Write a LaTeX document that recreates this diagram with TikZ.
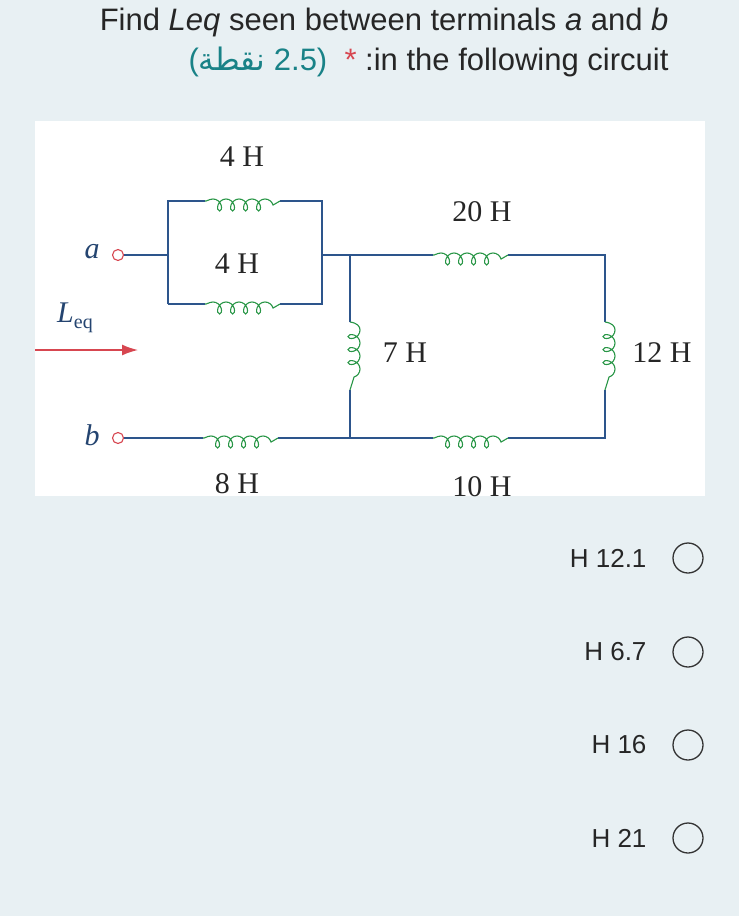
\documentclass[tikz,border=0pt]{standalone}
\usepackage{fontspec}
\setmainfont{Liberation Sans}
\newfontfamily\serif{Liberation Serif}
\newfontfamily\arabicfont[Script=Arabic]{DejaVu Sans}
\TeXXeTstate=1
\usetikzlibrary{decorations.pathmorphing,arrows.meta}
\definecolor{bg}{RGB}{232,240,243}
\definecolor{wire}{RGB}{45,85,140}
\definecolor{ind}{RGB}{40,150,70}
\definecolor{term}{RGB}{215,70,80}
\definecolor{teal}{RGB}{25,130,135}
\begin{document}
\begin{tikzpicture}[x=1pt,y=-1pt,
  w/.style={draw=wire,line width=1.4pt},
  coilh/.style={draw=ind,line width=1.1pt,decorate,decoration={coil,amplitude=6pt,segment length=13pt,aspect=0.8,raise=-4pt}},
  coilv/.style={draw=ind,line width=1.1pt,decorate,decoration={coil,amplitude=6pt,segment length=13pt,aspect=0.8,raise=4pt}},
  lab/.style={font=\serif\fontsize{30}{32}\selectfont,text=black!85},
  opt/.style={font=\fontsize{26}{28}\selectfont,anchor=east,text=black!85},
  rad/.style={draw=black!80,line width=1.3pt,circle,minimum size=30pt,inner sep=0pt}]
\fill[bg] (0,0) rectangle (739,916);
\useasboundingbox (0,0) rectangle (739,916);
\node[font=\fontsize{31}{34}\selectfont,anchor=base east,text=black!85] (t1) at (672,30) {Find \textit{Leq} seen between terminals \textit{a} and \textit{b}};
\node[font=\fontsize{31}{34}\selectfont,anchor=base east,text=black!85] (t2) at (672,70) {{\color{teal}({\arabicfont\beginR نقطة\endR} 2.5)}\ \ {\color{term}*} :in the following circuit};
\fill[white] (35,121) rectangle (705,496);
\coordinate (A) at (118,255); \coordinate (B) at (118,438);
\coordinate (L1) at (168,255); \coordinate (LT) at (168,201); \coordinate (LB) at (168,304);
\coordinate (R1) at (322,255); \coordinate (RT) at (322,201); \coordinate (RB) at (322,304);
\coordinate (N1) at (350,255); \coordinate (N2) at (350,438);
\coordinate (M1) at (605,255); \coordinate (M2) at (605,438);
\draw[w] (A) ++(6,0) -- (L1);
\draw[w] (LB) -- (LT) -- (205,201); \draw[w] (280,201) -- (RT) -- (RB) -- (280,304); \draw[w] (205,304) -- (LB);
\draw[w] (R1) -- (N1) -- (350,322); \draw[w] (350,390) -- (N2);
\draw[w] (N1) -- (433,255); \draw[w] (508,255) -- (M1) -- (605,322); \draw[w] (605,390) -- (M2) -- (508,438); \draw[w] (433,438) -- (N2);
\draw[w] (B) ++(6,0) -- (203,438); \draw[w] (278,438) -- (N2);
\draw[coilh] (205,201) -- (280,201);
\draw[coilh] (205,304) -- (280,304);
\draw[coilh] (203,438) -- (278,438);
\draw[coilh] (433,255) -- (508,255);
\draw[coilh] (433,438) -- (508,438);
\draw[coilv] (350,322) -- (350,390);
\draw[coilv] (605,322) -- (605,390);
\node[circle,draw=term,line width=1.1pt,minimum size=11pt,inner sep=0pt,fill=white] (ta) at (A) {};
\node[circle,draw=term,line width=1.1pt,minimum size=11pt,inner sep=0pt,fill=white] (tb) at (B) {};
\node[lab,font=\serif\itshape\fontsize{30}{32}\selectfont,text=wire!80!black] (la) at (92,252) {a};
\node[lab,font=\serif\itshape\fontsize{30}{32}\selectfont,text=wire!80!black] (lb) at (92,435) {b};
\node[lab,text=wire!80!black] (leq) at (75,318) {\textit{L}\raisebox{-6pt}{\fontsize{20}{22}\selectfont eq}};
\draw[term,line width=1.5pt,-{Latex[length=16pt,width=11pt]}] (35,350) -- (138,350);
\node[lab] (l1) at (242,157) {4 H};
\node[lab] (l2) at (237,264) {4 H};
\node[lab] (l3) at (237,484) {8 H};
\node[lab] (l4) at (405,353) {7 H};
\node[lab] (l5) at (482,212) {20 H};
\node[lab] (l6) at (482,487) {10 H};
\node[lab] (l7) at (662,353) {12 H};
\node[opt] (o1) at (650,558) {H 12.1}; \node[rad] (c1) at (688,558) {};
\node[opt] (o2) at (650,652) {H 6.7}; \node[rad] (c2) at (688,652) {};
\node[opt] (o3) at (650,745) {H 16}; \node[rad] (c3) at (688,745) {};
\node[opt] (o4) at (650,838) {H 21}; \node[rad] (c4) at (688,838) {};
\end{tikzpicture}
\end{document}
